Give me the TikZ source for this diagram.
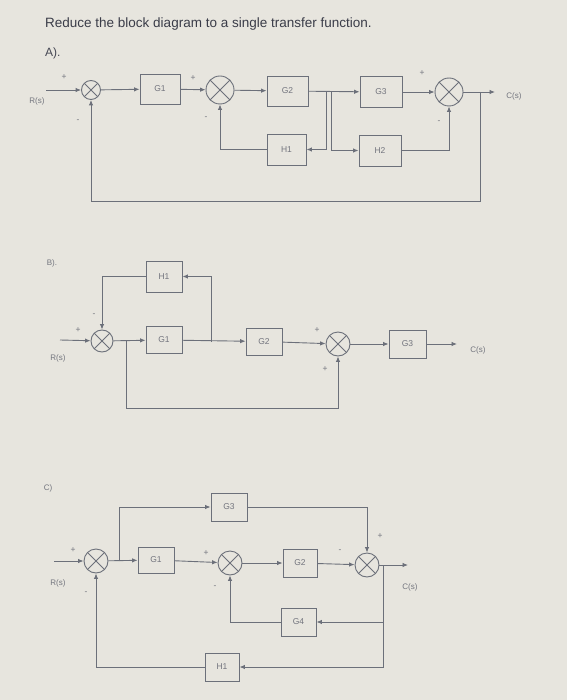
\documentclass[tikz,border=0pt]{standalone}
\usepackage{fontspec}
\setmainfont{Liberation Sans}
\usetikzlibrary{arrows.meta}
\definecolor{bg}{RGB}{231,229,222}
\definecolor{ln}{RGB}{108,112,122}
\definecolor{tx}{RGB}{115,117,126}
\definecolor{ttl}{RGB}{58,60,72}
\begin{document}
\begin{tikzpicture}[x=1pt,y=-1pt,
  arr/.style={draw=ln, line width=0.9pt, -{Latex[length=5.5pt,width=4.5pt]}},
  ln/.style={draw=ln, line width=0.9pt},
  blk/.style={draw=ln, line width=0.9pt, fill=bg, inner sep=0pt, text=tx, font=\fontsize{8.5}{9}\selectfont},
  sumj/.style={circle, draw=ln, line width=0.9pt, fill=bg, minimum size=#1, inner sep=0pt,
    path picture={\draw[ln, line width=0.9pt] (path picture bounding box.north west) -- (path picture bounding box.south east)
      (path picture bounding box.south west) -- (path picture bounding box.north east);}},
  lbl/.style={text=tx, inner sep=0pt, font=\fontsize{8}{9}\selectfont},
  sgn/.style={text=tx, inner sep=0pt, font=\fontsize{8.5}{9}\selectfont}]
\fill[bg] (0,0) rectangle (567,700);
\useasboundingbox (0,0) rectangle (567,700);

% Title
\node[anchor=west, text=ttl, inner sep=0pt, font=\fontsize{13.5}{15}\selectfont] (title) at (45,24) {Reduce the block diagram to a single transfer function.};
\node[anchor=west, text=ttl!80!tx, inner sep=0pt, font=\fontsize{12}{14}\selectfont] (labA) at (45,53) {A).};

% ---------------- A ----------------
\node[sumj=19] (sA1) at (91,90) {};
\node[blk, minimum width=40, minimum height=30] (G1A) at (160,89) {G1};
\node[sumj=28] (sA2) at (220,90) {};
\node[blk, minimum width=41, minimum height=30] (G2A) at (287.5,91) {G2};
\node[blk, minimum width=42, minimum height=31] (G3A) at (381,92) {G3};
\node[blk, minimum width=39, minimum height=31] (H1A) at (286.5,149.5) {H1};
\node[blk, minimum width=42, minimum height=31] (H2A) at (380,150.5) {H2};
\node[sumj=28] (sA3) at (449,92) {};
\coordinate (inA) at (46,90);
\coordinate (outA) at (495,92);
\coordinate (tapA) at (480,92);
\coordinate (bA1) at (326,91.5);
\coordinate (bA2) at (331,91.8);
\coordinate (botA) at (91,201);

\draw[arr] (inA) -- (sA1);
\draw[arr] (sA1) -- (G1A);
\draw[arr] (G1A) -- (sA2);
\draw[arr] (sA2) -- (G2A);
\draw[arr] (G2A) -- (G3A);
\draw[arr] (bA1) |- (H1A.east);
\draw[arr] (bA2) |- (H2A.west);
\draw[arr] (H1A.west) -| (sA2.south);
\draw[arr] (H2A.east) -| (sA3.south);
\draw[arr] (G3A) -- (sA3);
\draw[arr] (sA3) -- (outA);
\draw[arr] (tapA) |- (botA) -- (sA1.south);

\node[sgn] (pA1) at (64,77) {+};
\node[sgn] (mA1) at (78,121) {-};
\node[sgn] (pA2) at (193,78) {+};
\node[sgn] (mA2) at (206,118) {-};
\node[sgn] (pA3) at (422,73) {+};
\node[sgn] (mA3) at (439,122) {-};
\node[lbl] (RA) at (37,101) {R(s)};
\node[lbl] (CA) at (514,96) {C(s)};

% ---------------- B ----------------
\node[lbl] (labB) at (52,263) {B).};
\node[sumj=22] (sB1) at (102,341) {};
\node[blk, minimum width=36, minimum height=27] (G1B) at (164,340) {G1};
\node[blk, minimum width=36, minimum height=31] (H1B) at (164,276.5) {H1};
\node[blk, minimum width=36, minimum height=27] (G2B) at (264,341.5) {G2};
\node[sumj=24] (sB2) at (338,344) {};
\node[blk, minimum width=37, minimum height=28] (G3B) at (407.5,344) {G3};
\coordinate (inB) at (60,340);
\coordinate (outB) at (457,344);
\coordinate (bB1) at (126,341);
\coordinate (bB2) at (211,342);
\coordinate (cB) at (126,408);

\draw[arr] (inB) -- (sB1);
\draw[arr] (sB1) -- (G1B);
\draw[arr] (G1B) -- (G2B);
\draw[arr] (bB2) |- (H1B.east);
\draw[arr] (H1B.west) -| (sB1.north);
\draw[arr] (G2B) -- (sB2);
\draw[arr] (sB2) -- (G3B);
\draw[arr] (G3B) -- (outB);
\draw[arr] (bB1) -- (cB) -| (sB2.south);

\node[sgn] (pB1) at (78,330) {+};
\node[sgn] (mB1) at (94,315) {-};
\node[sgn] (pB2) at (317,330) {+};
\node[sgn] (pB3) at (325,369) {+};
\node[lbl] (RB) at (58,358) {R(s)};
\node[lbl] (CB) at (478,350) {C(s)};

% ---------------- C ----------------
\node[lbl] (labC) at (48,488) {C)};
\node[sumj=24] (sC1) at (96,561) {};
\node[blk, minimum width=36, minimum height=26] (G1C) at (156,560) {G1};
\node[blk, minimum width=36, minimum height=28] (G3C) at (229,507) {G3};
\node[sumj=24] (sC2) at (230,563) {};
\node[blk, minimum width=34, minimum height=28] (G2C) at (300,563) {G2};
\node[blk, minimum width=35, minimum height=28] (G4C) at (298.5,622) {G4};
\node[blk, minimum width=34, minimum height=28] (H1C) at (222,667) {H1};
\node[sumj=24] (sC3) at (367,565) {};
\coordinate (inC) at (54,561);
\coordinate (outC) at (408,565);
\coordinate (tapC) at (383,565);
\coordinate (bC1) at (119,561);
\coordinate (tC2) at (383,622);

\draw[arr] (inC) -- (sC1);
\draw[arr] (sC1) -- (G1C);
\draw[arr] (bC1) |- (G3C.west);
\draw[arr] (G1C) -- (sC2);
\draw[arr] (sC2) -- (G2C);
\draw[arr] (G2C) -- (sC3);
\draw[arr] (G3C.east) -| (sC3.north);
\draw[arr] (sC3) -- (outC);
\draw[arr] (tapC) |- (H1C.east);
\draw[arr] (tC2) -- (G4C);
\draw[arr] (G4C.west) -| (sC2.south);
\draw[arr] (H1C.west) -| (sC1.south);

\node[sgn] (pC1) at (73,550) {+};
\node[sgn] (mC1) at (86,593) {-};
\node[sgn] (pC2) at (206,553) {+};
\node[sgn] (mC2) at (215,587) {-};
\node[sgn] (mC3) at (340,551) {-};
\node[sgn] (pC3) at (380,536) {+};
\node[lbl] (RC) at (58,583) {R(s)};
\node[lbl] (CC) at (410,587) {C(s)};
\end{tikzpicture}
\end{document}
